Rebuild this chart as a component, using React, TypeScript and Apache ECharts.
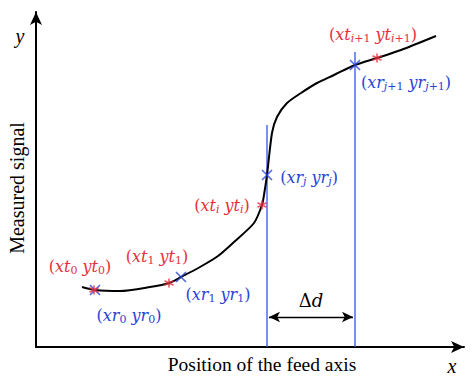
import React, { useEffect, useRef } from "react";
import * as echarts from "echarts";

// Curve samples (data units)
const curveX = [46, 59, 84, 114, 133, 145, 164, 182, 198, 218, 226, 228, 231, 236, 241, 251, 265, 281, 298, 319, 341, 365, 400];
const curveY = [60, 57, 56, 60, 64, 70, 80, 91, 105, 124, 142, 152, 172, 214, 230, 244, 254, 264, 272, 282, 289, 297, 311];

// Red asterisks (xt, yt)
const xtVals = [58, 133, 226, 341];
const ytVals = [57, 64, 142, 289];

// Blue crosses (xr, yr)
const xrVals = [59, 145, 231, 319];
const yrVals = [57, 70, 172, 282];

// Vertical guide lines
const guideX = [231, 319];
const guideTop = [222, 295];

// Δd arrow
const deltaY = 30;
const deltaFrom = 233;
const deltaTo = 317;

const RED = "#E8303C";
const BLUE = "#2A44D8";
const MATH = "DejaVu Serif";

const rich = {
  p: { fontFamily: MATH, fontSize: 16, lineHeight: 20 },
  i: { fontFamily: MATH, fontSize: 16, fontStyle: "italic", lineHeight: 20 },
  s: { fontFamily: MATH, fontSize: 11, lineHeight: 12, verticalAlign: "bottom" },
  si: { fontFamily: MATH, fontSize: 11, fontStyle: "italic", lineHeight: 12, verticalAlign: "bottom" },
};

function pair(a: string, b: string, sub: string) {
  const subTok = sub
    .split("")
    .map((c) => (/[a-z]/.test(c) ? `{si|${c}}` : `{s|${c}}`))
    .join("");
  return `{p|(}{i|${a}}${subTok}{p| }{i|${b}}${subTok}{p|)}`;
}

const labels = [
  { text: pair("xt", "yt", "0"), x: 80, y: 266, color: RED },
  { text: pair("xt", "yt", "1"), x: 157, y: 256, color: RED },
  { text: pair("xr", "yr", "0"), x: 129, y: 315, color: BLUE },
  { text: pair("xr", "yr", "1"), x: 218, y: 294, color: BLUE },
  { text: pair("xt", "yt", "i"), x: 222, y: 205, color: RED },
  { text: pair("xr", "yr", "j"), x: 309, y: 177, color: BLUE },
  { text: pair("xt", "yt", "i+1"), x: 373, y: 34, color: RED },
  { text: pair("xr", "yr", "j+1"), x: 406, y: 82, color: BLUE },
];

const asteriskPath = "path://M5,0 L5,10 M0.67,2.5 L9.33,7.5 M0.67,7.5 L9.33,2.5";
const crossPath = "path://M0,0 L10,10 M0,10 L10,0";

export default function App() {
  const ref = useRef<HTMLDivElement>(null);
  useEffect(() => {
    if (!ref.current) return;
    const chart = echarts.init(ref.current, null, { renderer: "svg" });
    const curve = curveX.map((x, i) => [x, curveY[i]]);
    const reds = xtVals.map((x, i) => [x, ytVals[i]]);
    const blues = xrVals.map((x, i) => [x, yrVals[i]]);
    const guides = guideX.map((x, i) => ({
      type: "line",
      data: [
        [x, 0],
        [x, guideTop[i]],
      ],
      symbol: "none",
      lineStyle: { color: "#3355E6", width: 1.3 },
      z: 1,
    }));
    chart.setOption({
      animation: false,
      backgroundColor: "#fff",
      grid: { left: 36, right: 10, top: 12, bottom: 40 },
      xAxis: {
        type: "value",
        min: 0,
        max: 428,
        axisLine: {
          show: true,
          symbol: ["none", "arrow"],
          symbolSize: [9, 13],
          lineStyle: { color: "#000", width: 2 },
        },
        axisTick: { show: false },
        axisLabel: { show: false },
        splitLine: { show: false },
      },
      yAxis: {
        type: "value",
        min: 0,
        max: 335,
        axisLine: {
          show: true,
          symbol: ["none", "arrow"],
          symbolSize: [9, 13],
          lineStyle: { color: "#000", width: 2 },
        },
        axisTick: { show: false },
        axisLabel: { show: false },
        splitLine: { show: false },
      },
      series: [
        ...guides,
        {
          type: "line",
          data: curve,
          smooth: 0.25,
          symbol: "none",
          lineStyle: { color: "#000", width: 2 },
          z: 2,
          markLine: {
            silent: true,
            symbol: ["arrow", "arrow"],
            symbolSize: [8, 11],
            label: { show: false },
            lineStyle: { color: "#000", width: 1.3, type: "solid" },
            data: [[{ coord: [deltaFrom, deltaY] }, { coord: [deltaTo, deltaY] }]],
          },
        },
        {
          type: "scatter",
          data: blues,
          symbol: crossPath,
          symbolSize: 10,
          itemStyle: { color: "none", borderColor: BLUE, borderWidth: 1.6 },
          z: 3,
        },
        {
          type: "scatter",
          data: reds,
          symbol: asteriskPath,
          symbolSize: 9,
          itemStyle: { color: "none", borderColor: RED, borderWidth: 1.6 },
          z: 4,
        },
      ],
      graphic: [
        ...labels.map((l) => ({
          type: "text",
          x: l.x,
          y: l.y,
          style: {
            text: l.text,
            rich,
            fill: l.color,
            align: "center",
            verticalAlign: "middle",
          },
        })),
        {
          type: "text",
          x: 311,
          y: 300,
          style: {
            text: "{p|Δ}{i|d}",
            rich: {
              p: { fontFamily: MATH, fontSize: 18 },
              i: { fontFamily: MATH, fontSize: 18, fontStyle: "italic" },
            },
            fill: "#000",
            align: "center",
            verticalAlign: "middle",
          },
        },
        {
          type: "text",
          x: 262,
          y: 364,
          style: {
            text: "Position of the feed axis",
            fontFamily: "Liberation Serif",
            fontSize: 19.5,
            fill: "#000",
            align: "center",
            verticalAlign: "middle",
          },
        },
        {
          type: "text",
          x: 17,
          y: 188,
          rotation: Math.PI / 2,
          style: {
            text: "Measured signal",
            fontFamily: "Liberation Serif",
            fontSize: 20,
            fill: "#000",
            align: "center",
            verticalAlign: "middle",
          },
        },
        {
          type: "text",
          x: 452,
          y: 366,
          style: {
            text: "x",
            fontFamily: "Liberation Serif",
            fontStyle: "italic",
            fontSize: 20,
            fill: "#000",
            align: "center",
            verticalAlign: "middle",
          },
        },
        {
          type: "text",
          x: 20,
          y: 36,
          style: {
            text: "y",
            fontFamily: "Liberation Serif",
            fontStyle: "italic",
            fontSize: 20,
            fill: "#000",
            align: "center",
            verticalAlign: "middle",
          },
        },
      ],
    });
    return () => chart.dispose();
  }, []);
  return <div ref={ref} style={{ width: 474, height: 387, position: "fixed", left: 0, top: 0 }} />;
}
